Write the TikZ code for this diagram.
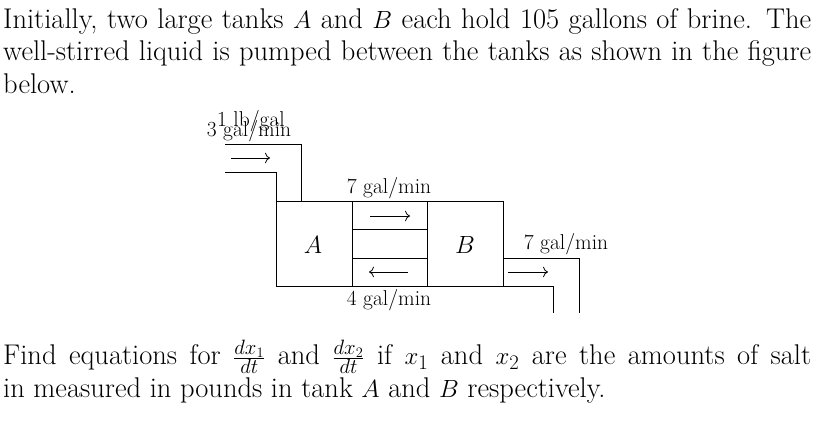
\documentclass[tikz,border=0pt]{standalone}
\usetikzlibrary{arrows.meta}
\begin{document}
\begin{tikzpicture}[x=1pt,y=-1pt,
  lbl/.style={inner sep=0pt,font=\fontsize{21.5}{23}\selectfont},
  big/.style={anchor=north west,inner sep=0pt,text width=808pt,align=justify,font=\fontsize{28.5}{32.5}\selectfont},
  wall/.style={line width=1pt},
  flow/.style={-{To[length=5pt]},line width=0.8pt}]
\useasboundingbox (0,0) rectangle (838,422);
\node[big] (p1) at (3,8)
 {Initially, two large tanks $A$ and $B$ each hold 105 gallons of brine. The\linebreak well-stirred liquid is pumped between the tanks as shown in the figure\linebreak below.};
\node[big] (p2) at (3,340)
 {Find equations for $\frac{dx_1}{dt}$ and $\frac{dx_2}{dt}$ if $x_1$ and $x_2$ are the amounts of salt\linebreak in measured in pounds in tank $A$ and $B$ respectively.};
% tank
\coordinate (tl) at (276,202); \coordinate (tr) at (503,202);
\coordinate (bl) at (276,286); \coordinate (br) at (503,286);
\draw[wall] (tl) -- (tr) -- (br) -- (bl) -- cycle;
\draw[wall] (352,202) -- (352,286) (427,202) -- (427,286);
\draw[wall] (352,230) -- (427,230) (352,258) -- (427,258);
% inlet
\draw[wall] (225,145) -- (301,145) -- (301,202);
\draw[wall] (225,173) -- (276,173) -- (tl);
% outlet
\draw[wall] (503,258) -- (579,258) -- (579,313);
\draw[wall] (br) -- (553,286) -- (553,313);
% arrows
\draw[flow] (231,158) -- (270,158);
\draw[flow] (370,216) -- (410,216);
\draw[flow] (408,272) -- (369,272);
\draw[flow] (508,272) -- (548,272);
% labels
\node[lbl] (l1) at (251,121) {1 lb/gal};
\node[lbl] (l2) at (249,131) {3 gal/min};
\node[lbl] (l3) at (389,188) {7 gal/min};
\node[lbl] (l4) at (389,300) {4 gal/min};
\node[lbl] (l5) at (566,244) {7 gal/min};
\node[inner sep=0pt,font=\fontsize{28}{30}\selectfont] (a) at (313,245) {$A$};
\node[inner sep=0pt,font=\fontsize{28}{30}\selectfont] (b) at (465,245) {$B$};
\end{tikzpicture}
\end{document}
